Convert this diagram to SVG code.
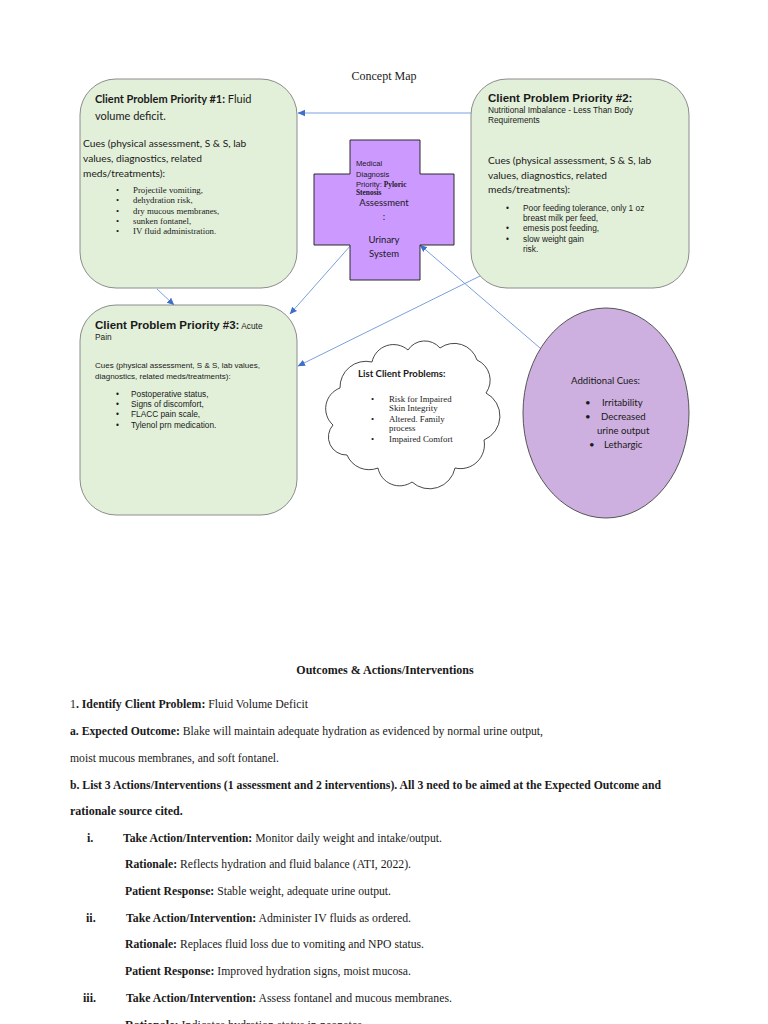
<svg xmlns="http://www.w3.org/2000/svg" width="768" height="1024" viewBox="0 0 768 1024">
<defs>
<marker id="ah" markerWidth="8" markerHeight="8" refX="7" refY="4" orient="auto" markerUnits="userSpaceOnUse">
<path d="M0,0.8 L7.5,4 L0,7.2 Z" fill="#3f6fc9"/>
</marker>
<style>
.box{fill:#e2efd9;stroke:#8c8c8c;stroke-width:1}
.cal{font-family:Lato,"Open Sans","Liberation Sans",sans-serif;fill:#1a1a1a}
.ari{font-family:"Liberation Sans",Arial,sans-serif;fill:#1a1a1a}
.tnr{font-family:"Liberation Serif","Times New Roman",serif;fill:#1a1a1a}
.b{font-weight:bold}
.con{stroke:#6b95dc;stroke-width:0.9;fill:none}
</style>
</defs>
<rect width="768" height="1024" fill="#ffffff"/>
<text class="tnr" x="384" y="80" font-size="12" text-anchor="middle">Concept Map</text>

<g id="connectors">
<line class="con" x1="471" y1="113" x2="298" y2="113" marker-end="url(#ah)"/>
<line class="con" x1="157" y1="289" x2="174" y2="305" marker-end="url(#ah)"/>
<line class="con" x1="351" y1="245" x2="290" y2="314" marker-end="url(#ah)"/>
<line class="con" x1="480" y1="276" x2="298" y2="366" marker-end="url(#ah)"/>
<line class="con" x1="540" y1="348" x2="420" y2="245" marker-end="url(#ah)"/>
</g>

<g id="priority1">
<rect class="box" x="80" y="79" width="217" height="209" rx="36"/>
<text class="cal" font-size="11" x="95" y="103"><tspan class="b">Client Problem Priority #1:</tspan> Fluid</text>
<text class="cal" font-size="11" x="95" y="120">volume deficit.</text>
<text class="cal" font-size="10.2" x="83" y="147">Cues (physical assessment, S &amp; S, lab</text>
<text class="cal" font-size="10.2" x="83" y="162">values, diagnostics, related</text>
<text class="cal" font-size="10.2" x="83" y="177">meds/treatments):</text>
<g class="tnr" font-size="8.8">
<text x="116" y="193">•</text><text x="133" y="193">Projectile vomiting,</text>
<text x="116" y="203">•</text><text x="133" y="203">dehydration risk,</text>
<text x="116" y="213.5">•</text><text x="133" y="213.5">dry mucous membranes,</text>
<text x="116" y="223.5">•</text><text x="133" y="223.5">sunken fontanel,</text>
<text x="116" y="234">•</text><text x="133" y="234">IV fluid administration.</text>
</g>
</g>

<g id="priority2">
<rect class="box" x="471" y="79" width="218" height="209" rx="36"/>
<text class="ari b" font-size="11.5" x="488" y="102">Client Problem Priority #2:</text>
<text class="ari" font-size="8.3" x="488" y="113">Nutritional Imbalance - Less Than Body</text>
<text class="ari" font-size="8.3" x="488" y="123">Requirements</text>
<text class="cal" font-size="10.2" x="488" y="164">Cues (physical assessment, S &amp; S, lab</text>
<text class="cal" font-size="10.2" x="488" y="179">values, diagnostics, related</text>
<text class="cal" font-size="10.2" x="488" y="193">meds/treatments):</text>
<g class="ari" font-size="8.3">
<text x="506" y="211">•</text><text x="523" y="211">Poor feeding tolerance, only 1 oz</text>
<text x="523" y="221">breast milk per feed,</text>
<text x="506" y="231">•</text><text x="523" y="231">emesis post feeding,</text>
<text x="506" y="242">•</text><text x="523" y="242">slow weight gain</text>
<text x="523" y="252">risk.</text>
</g>
</g>

<g id="priority3">
<rect class="box" x="80" y="305" width="217" height="210" rx="36"/>
<text class="ari" x="95" y="329"><tspan class="b" font-size="11.5">Client Problem Priority #3:</tspan><tspan font-size="8.3"> Acute</tspan></text>
<text class="ari" font-size="8.3" x="95" y="340">Pain</text>
<text class="ari" font-size="8" x="95" y="368">Cues (physical assessment, S &amp; S, lab values,</text>
<text class="ari" font-size="8" x="95" y="379">diagnostics, related meds/treatments):</text>
<g class="ari" font-size="8.3">
<text x="116" y="397">•</text><text x="131" y="397">Postoperative status,</text>
<text x="116" y="407">•</text><text x="131" y="407">Signs of discomfort,</text>
<text x="116" y="417">•</text><text x="131" y="417">FLACC pain scale,</text>
<text x="116" y="428">•</text><text x="131" y="428">Tylenol prn medication.</text>
</g>
</g>

<g id="medical-diagnosis">
<path d="M350,140 H420 V174 H454 V245 H420 V280 H350 V245 H314 V174 H350 Z" fill="#cc99ff" stroke="#2b2b2b" stroke-width="1"/>
<g class="ari" font-size="7.6">
<text x="356" y="166">Medical</text>
<text x="356" y="177">Diagnosis</text>
<text x="356" y="187">Priority: <tspan class="tnr b" font-size="7.4">Pyloric</tspan></text>
<text class="tnr b" font-size="7.4" x="356" y="195">Stenosis</text>
</g>
<text class="cal" font-size="9.5" x="384" y="206" text-anchor="middle">Assessment</text>
<text class="cal" font-size="9.5" x="384" y="220" text-anchor="middle">:</text>
<text class="cal" font-size="9.5" x="384" y="243" text-anchor="middle">Urinary</text>
<text class="cal" font-size="9.5" x="384" y="257" text-anchor="middle">System</text>
</g>

<g id="client-problems">
<path d="M333,425 A22,22 0 0 1 340,388 A26,26 0 0 1 372,362 A22,22 0 0 1 408,350 A20,20 0 0 1 440,348 A24,24 0 0 1 477,360 A22,22 0 0 1 486,393 A26,26 0 0 1 484,440 A24,24 0 0 1 455,468 A26,26 0 0 1 412,482 A22,22 0 0 1 378,468 A24,24 0 0 1 347,455 A18,18 0 0 1 333,425 Z" fill="#ffffff" stroke="#333333" stroke-width="0.9"/>
<text class="cal b" font-size="9.6" x="358" y="377">List Client Problems:</text>
<g class="tnr" font-size="8.8">
<text x="371" y="402">•</text><text x="389" y="402">Risk for Impaired</text>
<text x="389" y="411">Skin Integrity</text>
<text x="371" y="422">•</text><text x="389" y="422">Altered. Family</text>
<text x="389" y="431">process</text>
<text x="371" y="442">•</text><text x="389" y="442">Impaired Comfort</text>
</g>
</g>

<g id="additional-cues">
<ellipse cx="606" cy="413" rx="83" ry="105" fill="#cdb0df" stroke="#555555" stroke-width="1"/>
<g class="cal" font-size="9.6">
<text x="571" y="384">Additional Cues:</text>
<text x="585" y="406">•</text><text x="602" y="406">Irritability</text>
<text x="585" y="420">•</text><text x="601" y="420">Decreased</text>
<text x="597" y="434">urine output</text>
<text x="589" y="448">•</text><text x="604" y="448">Lethargic</text>
</g>
</g>

<g id="outcomes" class="tnr" font-size="12">
<text class="b" x="385" y="674" text-anchor="middle">Outcomes &amp; Actions/Interventions</text>
<text x="70" y="708" textLength="238" lengthAdjust="spacingAndGlyphs">1<tspan class="b">. Identify Client Problem:</tspan> Fluid Volume Deficit</text>
<text x="70" y="735" textLength="473" lengthAdjust="spacingAndGlyphs"><tspan class="b">a. Expected Outcome:</tspan> Blake will maintain adequate hydration as evidenced by normal urine output,</text>
<text x="70" y="762" textLength="209" lengthAdjust="spacingAndGlyphs">moist mucous membranes, and soft fontanel.</text>
<text class="b" x="70" y="789" textLength="591" lengthAdjust="spacingAndGlyphs">b. List 3 Actions/Interventions (1 assessment and 2 interventions). All 3 need to be aimed at the Expected Outcome and</text>
<text class="b" x="70" y="815">rationale source cited.</text>
<text class="b" x="87" y="842">i.</text>
<text x="123" y="842" textLength="319" lengthAdjust="spacingAndGlyphs"><tspan class="b">Take Action/Intervention:</tspan> Monitor daily weight and intake/output.</text>
<text x="125" y="868" textLength="286" lengthAdjust="spacingAndGlyphs"><tspan class="b">Rationale:</tspan> Reflects hydration and fluid balance (ATI, 2022).</text>
<text x="125" y="895" textLength="266" lengthAdjust="spacingAndGlyphs"><tspan class="b">Patient Response:</tspan> Stable weight, adequate urine output.</text>
<text class="b" x="86" y="922">ii.</text>
<text x="126" y="922" textLength="285" lengthAdjust="spacingAndGlyphs"><tspan class="b">Take Action/Intervention:</tspan> Administer IV fluids as ordered.</text>
<text x="125" y="948" textLength="299" lengthAdjust="spacingAndGlyphs"><tspan class="b">Rationale:</tspan> Replaces fluid loss due to vomiting and NPO status.</text>
<text x="125" y="975" textLength="286" lengthAdjust="spacingAndGlyphs"><tspan class="b">Patient Response:</tspan> Improved hydration signs, moist mucosa.</text>
<text class="b" x="83" y="1002">iii.</text>
<text x="126" y="1002" textLength="326" lengthAdjust="spacingAndGlyphs"><tspan class="b">Take Action/Intervention:</tspan> Assess fontanel and mucous membranes.</text>
<text x="125" y="1029" textLength="240" lengthAdjust="spacingAndGlyphs"><tspan class="b">Rationale:</tspan> Indicates hydration status in neonates.</text>
</g>
</svg>
